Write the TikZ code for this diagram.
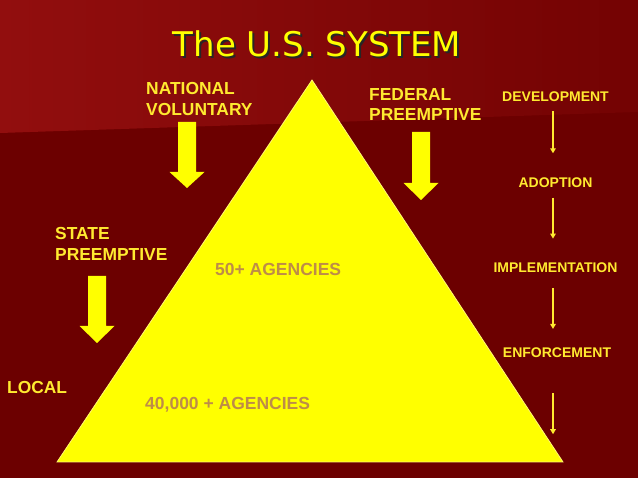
\documentclass[tikz,border=0pt]{standalone}
\usepackage{fontspec}
\setmainfont{Liberation Sans}
\newfontfamily\titlefont{DejaVu Sans}
\usetikzlibrary{arrows.meta,positioning}

\definecolor{bgdark}{RGB}{108,0,0}
\definecolor{bgtop}{RGB}{146,14,14}
\definecolor{lblyellow}{RGB}{255,234,48}
\definecolor{agtan}{RGB}{190,140,72}
\definecolor{pyryellow}{RGB}{255,255,0}

\begin{document}
\begin{tikzpicture}[x=1pt, y=-1pt,
    lvl/.style={align=left, anchor=north west, inner sep=0pt, text=lblyellow, font=\fontsize{17.4}{20.8}\selectfont\bfseries},
    phase/.style={anchor=north, inner sep=0pt, text=lblyellow, font=\fontsize{14}{16}\selectfont\bfseries},
    agencies/.style={anchor=north west, inner sep=0pt, text=agtan, font=\fontsize{17.5}{21}\selectfont\bfseries},
    flow/.style={-{Triangle[length=5pt,width=5.5pt]}, line width=1.6pt, draw=lblyellow},
    bigarr/.style={fill=pyryellow},
    node distance=75pt
]
\useasboundingbox (0,0) rectangle (638,478);
% background
\fill[bgdark] (0,0) rectangle (638,478);
\shade[left color=bgtop, right color=bgdark!80!bgtop] (0,0) -- (638,0) -- (638,112) -- (0,133) -- cycle;

% title
\node[anchor=base, inner sep=0pt, text=black!85, font=\fontsize{34}{40}\selectfont\titlefont] (tshadow) at (319,59) {The U.S. SYSTEM};
\node[anchor=base, inner sep=0pt, text=pyryellow, font=\fontsize{34}{40}\selectfont\titlefont] (title) at (317,57) {The U.S. SYSTEM};

% pyramid
\draw[fill=pyryellow, draw=yellow!55!white, line width=0.8pt] (312,80) -- (563,462) -- (57,462) -- cycle;
\node[agencies] (fed) at (215,263) {50+ AGENCIES};
\node[agencies] (loc) at (145,397) {40,000 + AGENCIES};

% levels
\node[lvl] (nat) at (146,82) {NATIONAL\\VOLUNTARY};
\node[lvl] (fedpre) at (369,88) {FEDERAL\\PREEMPTIVE};
\node[lvl] (stpre) at (55,227) {STATE\\PREEMPTIVE};
\node[lvl] (local) at (7,381) {LOCAL};

% block arrows
\fill[bigarr] (178,122) -- (196,122) -- (196,172) -- (204.5,172) -- (187,188) -- (169.5,172) -- (178,172) -- cycle;
\fill[bigarr] (412,132) -- (430,132) -- (430,183) -- (438.5,183) -- (421,200) -- (403.5,183) -- (412,183) -- cycle;
\fill[bigarr] (88,276) -- (106,276) -- (106,326) -- (114.5,326) -- (97,343) -- (79.5,326) -- (88,326) -- cycle;

% process
\node[phase] (dev) at (555.5,92) {DEVELOPMENT};
\node[phase, below=of dev] (adopt) {ADOPTION};
\node[phase, below=of adopt] (impl) {IMPLEMENTATION};
\node[phase, below=of impl, xshift=1.5pt] (enf) {ENFORCEMENT};
\draw[flow] ([xshift=-2.5pt, yshift=-9pt]dev.south) -- ([xshift=-2.5pt, yshift=24pt]adopt.north);
\draw[flow] ([xshift=-2.5pt, yshift=-10pt]adopt.south) -- ([xshift=-2.5pt, yshift=24pt]impl.north);
\draw[flow] ([xshift=-2.5pt, yshift=-15pt]impl.south) -- ([xshift=-4pt, yshift=19pt]enf.north);
\draw[flow] ([xshift=-4pt, yshift=-35pt]enf.south) -- ++(0,41);
\end{tikzpicture}
\end{document}
